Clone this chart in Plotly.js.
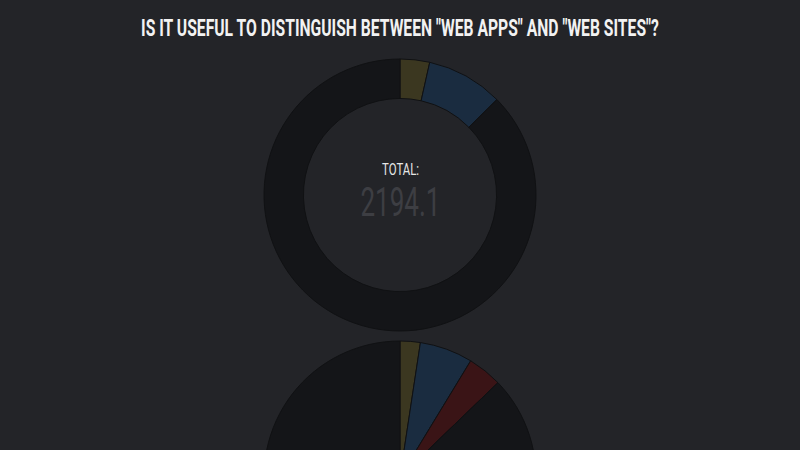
<!DOCTYPE html>
<html>
<head>
<meta charset="utf-8">
<script src="https://cdn.plot.ly/plotly-3.0.1.min.js"></script>
<style>
  html, body { margin:0; padding:0; background:#232428; overflow:hidden; width:800px; height:450px; }
  #chart { width:800px; height:640px; }
</style>
</head>
<body>
<div id="chart"></div>
<script>
// Data
const titleText = 'IS IT USEFUL TO DISTINGUISH BETWEEN "WEB APPS" AND "WEB SITES"?';
const donutLabels = ['Yes', 'No', 'Remaining'];
const donutValues = [77, 200, 1917.1];
const donutColors = ['#3b3720', '#1a2c40', '#141518'];
const pieLabels = ['Yes', 'No', 'Depends', 'Remaining'];
const pieValues = [2.4, 6.3, 4.1, 87.2];
const pieColors = ['#3b3720', '#1a2c40', '#3a1416', '#141518'];
const totalLabel = 'TOTAL:';
const totalValue = donutValues.reduce((a, b) => a + b, 0);

const H = 640;
const fontFam = 'Roboto, "Liberation Sans", sans-serif';
function py(px) { return 1 - px / H; }

const traces = [
  {
    type: 'pie',
    labels: donutLabels,
    values: donutValues,
    hole: 0.71,
    sort: false,
    direction: 'clockwise',
    rotation: 0,
    textinfo: 'none',
    hoverinfo: 'label+value+percent',
    marker: { colors: donutColors, line: { color: '#101113', width: 1 } },
    domain: { x: [264 / 800, 536 / 800], y: [py(331), py(59)] },
    showlegend: false
  },
  {
    type: 'pie',
    labels: pieLabels,
    values: pieValues,
    sort: false,
    direction: 'clockwise',
    rotation: 0,
    textinfo: 'none',
    hoverinfo: 'label+value+percent',
    marker: { colors: pieColors, line: { color: '#101113', width: 1 } },
    domain: { x: [264 / 800, 536 / 800], y: [py(613), py(341)] },
    showlegend: false
  }
];

const layout = {
  width: 800,
  height: H,
  margin: { l: 0, r: 0, t: 0, b: 0 },
  paper_bgcolor: '#232428',
  plot_bgcolor: '#232428',
  showlegend: false,
  title: {
    text: titleText,
    x: 0.5, xanchor: 'center',
    y: py(28), yref: 'container', yanchor: 'middle',
    font: { family: fontFam, size: 24, weight: 'bold', color: '#f2f2f2' }
  },
  annotations: [
    {
      text: totalLabel, x: 0.5, y: py(169), xref: 'paper', yref: 'paper',
      showarrow: false, xanchor: 'center', yanchor: 'middle',
      font: { family: fontFam, size: 17, color: '#e6e6e6' }
    },
    {
      text: totalValue.toFixed(1), x: 0.5, y: py(202), xref: 'paper', yref: 'paper',
      showarrow: false, xanchor: 'center', yanchor: 'middle',
      font: { family: fontFam, size: 40, color: '#3d3e43' }
    }
  ]
};

function squeeze(el, len) {
  if (!el) return;
  el.setAttribute('textLength', len);
  el.setAttribute('lengthAdjust', 'spacingAndGlyphs');
}

function narrowGroup(g, textEl, targetWidth) {
  if (!g || !textEl) return;
  const w = textEl.getComputedTextLength();
  if (!w) return;
  const s = targetWidth / w;
  const cx = 400;
  g.setAttribute('transform', 'translate(' + cx + ',0) scale(' + s + ',1) translate(' + (-cx) + ',0)');
}

Plotly.newPlot('chart', traces, layout, { displayModeBar: false, staticPlot: true }).then(function (gd) {
  narrowGroup(gd.querySelector('.g-gtitle'), gd.querySelector('.gtitle'), 518);
  const ann = gd.querySelectorAll('.annotation-text');
  squeeze(ann[0], 37);
  squeeze(ann[1], 80);
});
</script>
</body>
</html>
